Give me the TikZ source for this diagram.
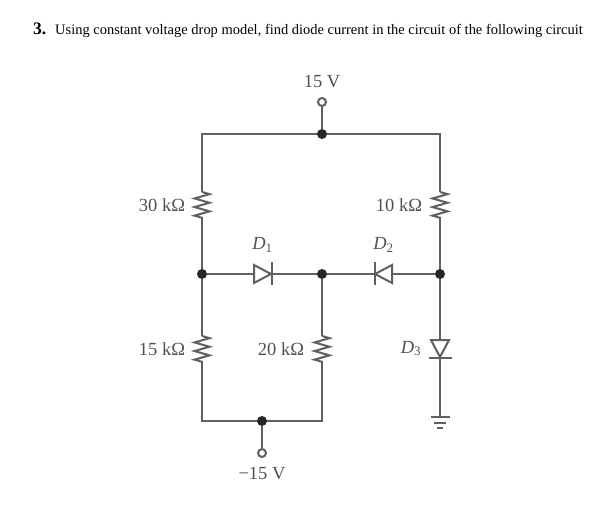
\documentclass[tikz,border=0pt]{standalone}
\usepackage{fontspec}
\setmainfont{Liberation Serif}
\usetikzlibrary{positioning,decorations.pathmorphing,backgrounds}
\definecolor{wirecol}{HTML}{606060}
\definecolor{labelcol}{HTML}{505050}
\tikzset{
  wire/.style={draw=wirecol,line width=2pt},
  corner/.style={inner sep=0pt,minimum size=0pt},
  junction/.style={circle,fill=black!85,inner sep=0pt,minimum size=10pt},
  terminal/.style={circle,draw=wirecol,fill=white,line width=2pt,inner sep=0pt,minimum size=8pt},
  val/.style={text=labelcol,font=\fontsize{18.5}{20}\selectfont,inner sep=0pt},
  res/.style={wire,decorate,decoration={zigzag,segment length=8.6pt,amplitude=7.5pt}},
  diode/.pic={
    \draw[wire,fill=white,line join=miter] (-8.5pt,-9pt) -- (8.5pt,0pt) -- (-8.5pt,9pt) -- cycle;
    \draw[wire] (9pt,-11.5pt) -- (9pt,11.5pt);
  }
}
\begin{document}
\begin{tikzpicture}[x=1pt,y=1pt,on grid]
  \useasboundingbox (0,0) rectangle (615,517);
  \node [anchor=base west,inner sep=0pt] (title) at (33,482.7) {\fontsize{17.5}{18}\selectfont\textbf{3.}};
  \node [anchor=base west,inner sep=0pt] (question) at (55,482.7) {\fontsize{14.47}{18}\selectfont Using constant voltage drop model, find diode current in the circuit of the following circuit};
  % top rail
  \node [terminal] (vcc) at (322,415) {};
  \node [val,above=20pt of vcc] (vcclab) {15 V};
  \node [junction,below=32pt of vcc] (topmid) {};
  \node [corner,left=120pt of topmid] (topl) {};
  \node [corner,right=118pt of topmid] (topr) {};
  % middle nodes
  \node [junction,below=140pt of topl] (nl) {};
  \node [junction,below=140pt of topmid] (nm) {};
  \node [junction,below=140pt of topr] (nr) {};
  % bottom rail
  \node [corner,below=147pt of nl] (botl) {};
  \node [corner,below=147pt of nm] (botm) {};
  \node [junction,right=60pt of botl] (nb) {};
  \node [terminal,below=32pt of nb] (vee) {};
  \node [val,below=21pt of vee] (veelab) {−15 V};
  % resistors
  \node [corner,below=58pt of topl] (r1a) {};
  \node [corner,below=26pt of r1a] (r1b) {};
  \node [corner,below=58pt of topr] (r2a) {};
  \node [corner,below=26pt of r2a] (r2b) {};
  \node [corner,below=62pt of nl] (r3a) {};
  \node [corner,below=26pt of r3a] (r3b) {};
  \node [corner,below=62pt of nm] (r4a) {};
  \node [corner,below=26pt of r4a] (r4b) {};
  \node [val,left=40pt of r1a,yshift=-13pt] (r1lab) {30 kΩ};
  \node [val,left=41pt of r2a,yshift=-13pt] (r2lab) {10 kΩ};
  \node [val,left=40pt of r3a,yshift=-13pt] (r3lab) {15 kΩ};
  \node [val,left=41pt of r4a,yshift=-13pt] (r4lab) {20 kΩ};
  % diodes
  \node [corner,right=60.5pt of nl] (d1) {};
  \node [corner,left=56.5pt of nr] (d2) {};
  \node [corner,below=74.5pt of nr] (d3) {};
  \node [corner,below=143pt of nr] (gnd) {};
  \node [val,above=29pt of d1] (d1lab) {\textit{D}\textsubscript{1}};
  \node [val,above=29pt of d2] (d2lab) {\textit{D}\textsubscript{2}};
  \node [val,left=29pt of d3] (d3lab) {\textit{D}\textsubscript{3}};
  % wires
  \begin{scope}[on background layer]
    \draw [wire] (vcc) -- (topmid);
    \draw [wire] (r1a.center) -- (topl.center) -- (topr.center) -- (r2a.center);
    \draw [wire] (r1b.center) -- (nl.center) -- (r3a.center);
    \draw [wire] (r2b.center) -- (nr.center) -- (gnd.center);
    \draw [wire] (nl) -- (nr);
    \draw [wire] (nm) -- (r4a.center);
    \draw [wire] (r3b.center) -- (botl.center) -- (botm.center) -- (r4b.center);
    \draw [wire] (nb) -- (vee);
    \draw [res] (r1a.center) -- (r1b.center);
    \draw [res] (r2a.center) -- (r2b.center);
    \draw [res] (r3a.center) -- (r3b.center);
    \draw [res] (r4a.center) -- (r4b.center);
  \end{scope}
  \pic at (d1) {diode};
  \pic [rotate=180] at (d2) {diode};
  \pic [rotate=-90] at (d3) {diode};
  % ground
  \draw [wire] ([xshift=-9.5pt]gnd.center) -- ([xshift=9.5pt]gnd.center);
  \draw [wire] ([xshift=-6pt,yshift=-5.5pt]gnd.center) -- ([xshift=6pt,yshift=-5.5pt]gnd.center);
  \draw [wire] ([xshift=-3pt,yshift=-10.5pt]gnd.center) -- ([xshift=3pt,yshift=-10.5pt]gnd.center);
\end{tikzpicture}
\end{document}
